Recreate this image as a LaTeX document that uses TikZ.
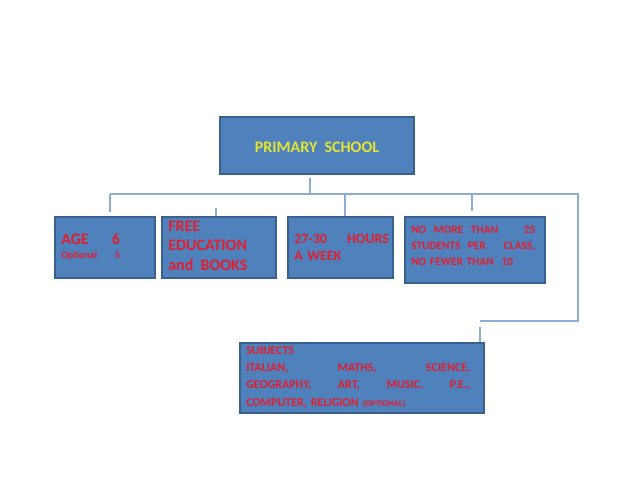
\documentclass[tikz,border=0pt]{standalone}
\usepackage{fontspec}
\setmainfont{Carlito}
\definecolor{boxfill}{RGB}{79,129,189}
\definecolor{boxline}{RGB}{60,96,140}
\definecolor{txtred}{RGB}{225,30,45}
\definecolor{txtyel}{RGB}{230,230,50}
\definecolor{conn}{RGB}{140,172,212}
\newcommand\jline[2]{\leavevmode\hbox to #1{#2}}
\begin{document}
\begin{tikzpicture}[x=0.75pt,y=-0.75pt,
  box/.style={draw=boxline,fill=boxfill,line width=0.8pt,inner sep=0pt},
  txt/.style={anchor=north west,inner sep=0pt,text=txtred,font=\bfseries,align=left},
  conline/.style={draw=conn,line width=0.8pt}]
\useasboundingbox (0,0) rectangle (638,479);
\fill[white] (0,0) rectangle (638,479);
\node[box,minimum width=145.5pt,minimum height=42.75pt] (top) at (317,145.5) {};
\node[text=txtyel,font=\bfseries\fontsize{12}{14}\selectfont] (toptxt) at (317,147) {PRIMARY\ \ SCHOOL};
\node[box,minimum width=75pt,minimum height=45.75pt] (b1) at (105,247.5) {};
\node[box,minimum width=85.5pt,minimum height=45.75pt] (b2) at (219,247.5) {};
\node[box,minimum width=78.75pt,minimum height=45.75pt] (b3) at (340.5,247.5) {};
\node[box,minimum width=105pt,minimum height=49.5pt] (b4) at (475,250) {};
\node[box,minimum width=183pt,minimum height=52.5pt] (b5) at (362,378) {};
% texts
\node[txt,text width=52pt,font=\bfseries\fontsize{12}{14}\selectfont] (t1) at (61,233)
 {\jline{52pt}{AGE\hfill 6\hspace*{8pt}}\\[-3pt]{\fontsize{7.5}{9}\selectfont\jline{52pt}{Optional\hfill 5\hspace*{8pt}}}};
\node[txt,font=\bfseries\fontsize{12}{14.5}\selectfont] (t2) at (168,221) {FREE\\EDUCATION\\and\ \ BOOKS};
\node[txt,text width=71pt,font=\bfseries\fontsize{10.5}{13}\selectfont] (t3) at (294,234)
 {\jline{71pt}{27-30\hfill HOURS}\\A WEEK};
\node[txt,text width=93pt,font=\bfseries\fontsize{8.5}{12}\selectfont] (t4) at (411,226)
 {\jline{93pt}{NO\ \ MORE\ \ THAN\hfill 25}\\\jline{93pt}{STUDENTS\ \ PER\hfill CLASS,}\\NO FEWER THAN\ \ 10};
\node[txt,text width=168pt,font=\bfseries\fontsize{9}{13}\selectfont] (t5) at (246,346)
 {SUBJECTS\\\jline{168pt}{ITALIAN,\hfill MATHS,\hfill SCIENCE,}\\\jline{168pt}{GEOGRAPHY,\hfill ART,\hfill MUSIC,\hfill P.E.,}\\COMPUTER, RELIGION {\fontsize{6.5}{8}\selectfont(OPTIONAL)}};
% connectors
\coordinate (c0) at (310,178);
\coordinate (c1) at (310,194);
\coordinate (hl) at (110,194);
\coordinate (hr) at (578,194);
\coordinate (rb) at (578,321);
\coordinate (lb) at (480,321);
\coordinate (d5) at (480,327);
\coordinate (d3) at (345,194);
\coordinate (d4) at (472,194);
\draw[conline] (c0) -- (c1);
\draw[conline] (hl) -- (hr) -- (rb) -- (lb);
\draw[conline] (hl) -- (110,212);
\draw[conline] (216,208) -- (216,216);
\draw[conline] (d3) -- (b3.north -| d3);
\draw[conline] (d4) -- (472,211);
\draw[conline] (d5) -- (b5.north -| d5);
\end{tikzpicture}
\end{document}
